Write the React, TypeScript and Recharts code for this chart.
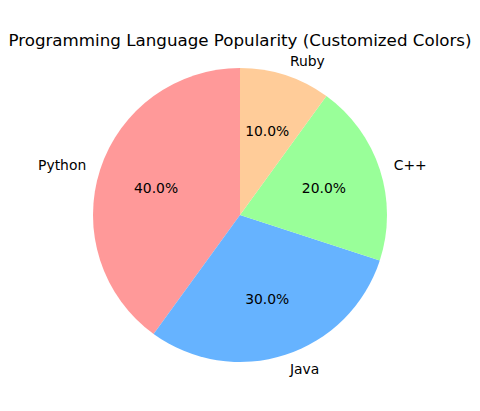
import React from "react";
import { Cell, Pie, PieChart } from "recharts";

const languages = ["Python", "Java", "C++", "Ruby"];
const shares = [40, 30, 20, 10];
const colors = ["#ff9999", "#66b3ff", "#99ff99", "#ffcc99"];

const data = languages.map((name, i) => ({ name, value: shares[i] }));
const total = shares.reduce((a, b) => a + b, 0);
const RAD = Math.PI / 180;
const font = "DejaVu Sans, sans-serif";

function renderLabel(props: any) {
  const { cx, cy, midAngle, outerRadius, name, value } = props;
  const cos = Math.cos(-midAngle * RAD);
  const sin = Math.sin(-midAngle * RAD);
  const lx = cx + outerRadius * 1.1 * cos;
  const ly = cy + outerRadius * 1.1 * sin;
  const px = cx + outerRadius * 0.6 * cos;
  const py = cy + outerRadius * 0.6 * sin;
  return (
    <g>
      <text
        x={lx}
        y={ly}
        textAnchor={lx >= cx ? "start" : "end"}
        dominantBaseline="central"
        fontFamily={font}
        fontSize={13.9}
        fill="#000"
      >
        {name}
      </text>
      <text
        x={px}
        y={py}
        textAnchor="middle"
        dominantBaseline="central"
        fontFamily={font}
        fontSize={13.9}
        fill="#000"
      >
        {((value / total) * 100).toFixed(1)}%
      </text>
    </g>
  );
}

export default function App() {
  return (
    <div style={{ position: "absolute", left: 0, top: 0, width: 480, height: 411, background: "#fff" }}>
      <div
        style={{
          position: "absolute",
          top: 28,
          width: 480,
          textAlign: "center",
          fontFamily: font,
          fontSize: 16.7,
          color: "#000",
          lineHeight: "24px",
        }}
      >
        Programming Language Popularity (Customized Colors)
      </div>
      <PieChart width={480} height={411} margin={{ top: 0, right: 0, bottom: 0, left: 0 }}>
        <Pie
          data={data}
          dataKey="value"
          nameKey="name"
          cx={240}
          cy={215}
          outerRadius={147}
          startAngle={90}
          endAngle={450}
          stroke="none"
          label={renderLabel}
          labelLine={false}
          isAnimationActive={false}
        >
          {data.map((d, i) => (
            <Cell key={d.name} fill={colors[i]} />
          ))}
        </Pie>
      </PieChart>
    </div>
  );
}
